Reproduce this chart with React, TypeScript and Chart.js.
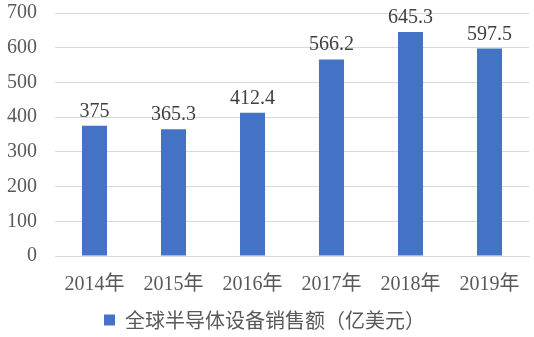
import React, { useEffect, useRef } from "react";
import { Chart, registerables } from "chart.js";

Chart.register(...registerables);

const categories = ["2014年", "2015年", "2016年", "2017年", "2018年", "2019年"];
const salesValues = [375, 365.3, 412.4, 566.2, 645.3, 597.5];
const seriesName = "全球半导体设备销售额（亿美元）";
const yMin = 0;
const yMax = 700;
const yStep = 100;

const SERIF = "'Liberation Serif', 'Times New Roman', 'Noto Sans CJK SC', serif";
const CJK = "'Noto Sans CJK SC', 'Noto Sans', sans-serif";

const valueLabelPlugin = {
  id: "valueLabels",
  afterDatasetsDraw(chart: any) {
    const ctx = chart.ctx;
    ctx.save();
    ctx.font = `20px ${SERIF}`;
    ctx.fillStyle = "#404040";
    ctx.textAlign = "center";
    ctx.textBaseline = "alphabetic";
    chart.data.datasets.forEach((ds: any, di: number) => {
      const meta = chart.getDatasetMeta(di);
      meta.data.forEach((el: any, i: number) => {
        ctx.fillText(String(ds.data[i]), el.x, el.y - 9);
      });
    });
    ctx.restore();
  },
};

export default function App() {
  const ref = useRef<HTMLCanvasElement | null>(null);
  useEffect(() => {
    document.body.style.margin = "0";
    if (!ref.current) return;
    const chart = new Chart(ref.current, {
      type: "bar",
      data: {
        labels: categories,
        datasets: [
          {
            label: seriesName,
            data: salesValues,
            backgroundColor: "#4472C4",
            barPercentage: 0.317,
            categoryPercentage: 1,
          },
        ],
      },
      options: {
        animation: false,
        responsive: true,
        maintainAspectRatio: false,
        layout: { padding: { top: 13, left: 0, right: 5, bottom: -3 } },
        scales: {
          x: {
            grid: { display: false, drawTicks: false },
            border: { display: true, color: "#D9D9D9" },
            ticks: {
              color: "#595959",
              font: { size: 20, family: SERIF },
              padding: 17,
              maxRotation: 0,
            },
            afterFit: (s: any) => {
              s.paddingLeft = 0;
              s.paddingRight = 0;
              s.height = 50;
            },
          },
          y: {
            min: yMin,
            max: yMax,
            grid: { color: "#D9D9D9", drawTicks: false },
            border: { display: false },
            ticks: {
              stepSize: yStep,
              color: "#595959",
              font: { size: 20, family: SERIF },
              padding: 18,
            },
            afterFit: (s: any) => {
              s.paddingTop = 0;
              s.paddingBottom = 0;
              s.width = 55;
            },
          },
        },
        plugins: {
          legend: {
            position: "bottom",
            labels: {
              boxWidth: 11,
              boxHeight: 11,
              color: "#595959",
              font: { size: 20, family: CJK },
              padding: 4,
            },
          },
          tooltip: { enabled: false },
        },
      },
      plugins: [valueLabelPlugin],
    });
    return () => chart.destroy();
  }, []);
  return (
    <div style={{ width: 534, height: 337, position: "relative" }}>
      <canvas ref={ref} />
    </div>
  );
}
